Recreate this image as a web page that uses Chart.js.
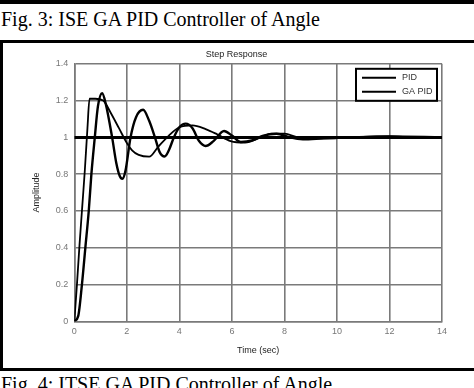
<!DOCTYPE html>
<html>
<head>
<meta charset="utf-8">
<script src="https://cdn.jsdelivr.net/npm/chart.js@4.4.1/dist/chart.umd.min.js"></script>
<style>
    html, body { margin: 0; padding: 0; background: #fff; }
    body { width: 474px; height: 388px; position: relative; overflow: hidden; }
    .topbar { position: absolute; left: 0; top: 0; width: 474px; height: 4px; background: #000; }
    .caption { position: absolute; left: 1px; font-family: "Liberation Serif", serif; font-size: 20px; color: #000; white-space: nowrap; }
    .box { position: absolute; left: 0; top: 40px; width: 480px; height: 325px; border: 3px solid #000; }
    #chart { position: absolute; left: 3px; top: 43px; }
</style>
</head>
<body>
<div class="topbar"></div>
<div class="caption" style="top: 8px;">Fig. 3: ISE GA PID Controller of Angle</div>
<div class="box"></div>
<canvas id="chart" width="471" height="325"></canvas>
<div class="caption" style="top: 373px;">Fig. 4: ITSE GA PID Controller of Angle</div>

<script>
/***************** DATA *****************/
const seriesNames = ['PID', 'GA PID'];

// fast rise, long plateau, slow decay
const timePID = [0, 0.1, 0.2, 0.3, 0.4, 0.5, 0.58, 0.8, 1.1, 1.4, 1.7, 2.0, 2.2, 2.45, 2.85, 3.2, 3.6, 4.0, 4.5, 5.0, 5.45, 5.95, 6.5, 7.1, 7.5, 8.0, 8.5, 9.0, 9.7, 10.5, 11.5, 12.0, 13.0, 14.0];
const ampPID  = [0, 0.2, 0.42, 0.62, 0.82, 1.05, 1.21, 1.21, 1.2, 1.13, 1.05, 0.97, 0.93, 0.905, 0.895, 0.95, 1.01, 1.055, 1.065, 1.045, 1.016, 0.98, 0.972, 1.0, 1.02, 1.02, 1.0, 0.995, 0.995, 1.0, 1.005, 1.005, 1.0, 1.0];

// oscillating response
const timeGA = [0, 0.15, 0.29, 0.42, 0.55, 0.65, 0.78, 0.9, 1.06, 1.2, 1.44, 1.6, 1.73, 1.83, 1.95, 2.14, 2.35, 2.62, 2.85, 3.07, 3.25, 3.44, 3.6, 3.79, 4.0, 4.24, 4.5, 4.75, 5.0, 5.3, 5.7, 6.0, 6.34, 6.8, 7.2, 7.7, 8.2, 8.7, 9.5, 10.5, 12.0, 14.0];
const ampGA  = [0, 0.03, 0.2, 0.4, 0.6, 0.8, 1.0, 1.17, 1.24, 1.18, 1.0, 0.86, 0.79, 0.775, 0.82, 1.0, 1.11, 1.15, 1.09, 1.0, 0.92, 0.896, 0.93, 1.0, 1.055, 1.075, 1.05, 0.98, 0.953, 0.98, 1.035, 1.01, 0.975, 0.985, 1.01, 1.02, 1.0, 0.99, 0.995, 1.0, 1.005, 1.0];

// steady state reference
const refTime = [0, 14];
const refAmp  = [1, 1];

const xTicks = [0, 2, 4, 6, 8, 10, 12, 14];
const yTicks = [0, 0.2, 0.4, 0.6, 0.8, 1, 1.2, 1.4];

/***************** HELPERS *****************/
const gridGray = '#7a7a7a';
const labelGray = '#777777';

function toPoints(xs, ys) {
    return xs.map((x, i) => ({ x: x, y: ys[i] }));
}

// legend box drawn inside the plot, top right
const boxLegend = {
    id: 'boxLegend',
    afterDraw(chart) {
        const ctx = chart.ctx;
        const area = chart.chartArea;
        const w = 81, h = 32;
        const x0 = area.right - 5 - w;
        const y0 = area.top + 5;
        ctx.save();
        ctx.fillStyle = '#fff';
        ctx.fillRect(x0, y0, w, h);
        ctx.strokeStyle = '#000';
        ctx.lineWidth = 2;
        ctx.strokeRect(x0, y0, w, h);
        ctx.font = '9px "Liberation Sans"';
        ctx.textBaseline = 'middle';
        seriesNames.forEach((name, i) => {
            const yy = y0 + 9 + i * 14;
            ctx.beginPath();
            ctx.moveTo(x0 + 6, yy);
            ctx.lineTo(x0 + 40, yy);
            ctx.lineWidth = 2;
            ctx.strokeStyle = '#000';
            ctx.stroke();
            ctx.fillStyle = '#333';
            ctx.fillText(name, x0 + 46, yy);
        });
        ctx.restore();
    }
};

/***************** CHART *****************/
const data = {
    datasets: [{
        label: seriesNames[0],
        data: toPoints(timePID, ampPID),
        borderColor: '#000',
        borderWidth: 1.8,
        pointRadius: 0,
        cubicInterpolationMode: 'monotone'
    }, {
        label: seriesNames[1],
        data: toPoints(timeGA, ampGA),
        borderColor: '#000',
        borderWidth: 2.4,
        pointRadius: 0,
        cubicInterpolationMode: 'monotone'
    }, {
        label: 'ref',
        data: toPoints(refTime, refAmp),
        borderColor: '#000',
        borderWidth: 3,
        pointRadius: 0
    }]
};

const options = {
    responsive: false,
    animation: false,
    layout: {
        padding: { left: 28, right: 32, top: 2, bottom: 12 }
    },
    plugins: {
        legend: { display: false },
        tooltip: { enabled: false },
        title: {
            display: true,
            text: 'Step Response',
            color: '#222',
            font: { family: 'Liberation Sans', size: 9, weight: 'normal' },
            padding: { top: 4, bottom: 4 }
        }
    },
    scales: {
        x: {
            type: 'linear',
            min: 0,
            max: 14,
            afterBuildTicks: (axis) => { axis.ticks = xTicks.map(v => ({ value: v })); },
            grid: { color: gridGray, lineWidth: 1.6, drawTicks: false },
            border: { color: gridGray, width: 1.6 },
            ticks: { color: labelGray, font: { family: 'Liberation Sans', size: 9 }, padding: 5 },
            title: {
                display: true,
                text: 'Time (sec)',
                color: '#222',
                font: { family: 'Liberation Sans', size: 9 },
                padding: { top: 3, bottom: 0 }
            }
        },
        y: {
            min: 0,
            max: 1.4,
            afterBuildTicks: (axis) => { axis.ticks = yTicks.map(v => ({ value: v })); },
            grid: { color: gridGray, lineWidth: 1.6, drawTicks: false },
            border: { color: gridGray, width: 1.6 },
            ticks: {
                color: labelGray,
                font: { family: 'Liberation Sans', size: 9 },
                padding: 6,
                callback: (value) => String(value)
            },
            title: {
                display: true,
                text: 'Amplitude',
                color: '#222',
                font: { family: 'Liberation Sans', size: 9 },
                padding: { top: 0, bottom: 8 }
            }
        }
    }
};

const ctx = document.getElementById('chart').getContext('2d');
const stepChart = new Chart(ctx, {
    type: 'line',
    data: data,
    options: options,
    plugins: [boxLegend]
});
</script>
</body>
</html>
